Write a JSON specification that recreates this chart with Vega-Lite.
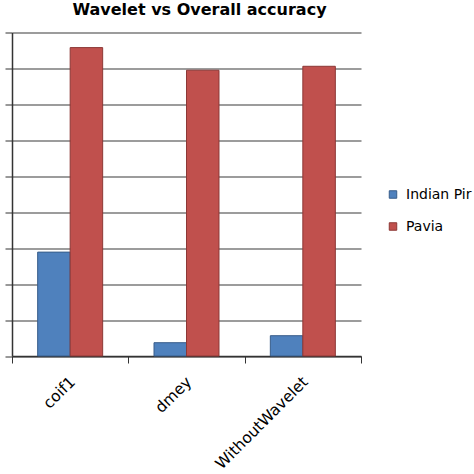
{
  "$schema": "https://vega.github.io/schema/vega-lite/v6.json",
  "width": 349,
  "height": 323.5,
  "autosize": {"type": "none"},
  "padding": {"left": 12, "top": 32.5, "right": 113, "bottom": 118},
  "background": "white",
  "title": {
    "text": "Wavelet vs Overall accuracy",
    "font": "DejaVu Sans",
    "fontSize": 16,
    "fontWeight": "bold",
    "color": "#000000",
    "anchor": "middle",
    "dx": 13,
    "offset": 14
  },
  "data": {
    "values": [
      {"wavelet": "coif1", "dataset": "Indian Pir", "accuracy": 28.9},
      {"wavelet": "coif1", "dataset": "Pavia", "accuracy": 85.8},
      {"wavelet": "dmey", "dataset": "Indian Pir", "accuracy": 3.7},
      {"wavelet": "dmey", "dataset": "Pavia", "accuracy": 79.5},
      {"wavelet": "WithoutWavelet", "dataset": "Indian Pir", "accuracy": 5.65},
      {"wavelet": "WithoutWavelet", "dataset": "Pavia", "accuracy": 80.6}
    ]
  },
  "mark": {"type": "bar", "strokeWidth": 1},
  "encoding": {
    "x": {
      "field": "wavelet",
      "type": "nominal",
      "sort": ["coif1", "dmey", "WithoutWavelet"],
      "scale": {"paddingInner": 0, "paddingOuter": 0},
      "axis": {
        "title": null,
        "labelAngle": -45,
        "labelFont": "DejaVu Sans",
        "labelFontSize": 15.5,
        "labelColor": "#000000",
        "tickBand": "extent",
        "tickColor": "#333333",
        "tickSize": 7,
        "domainColor": "#333333",
        "domainWidth": 1.5,
        "labelPadding": 11,
        "labelOffset": -3,
        "grid": false
      }
    },
    "xOffset": {
      "field": "dataset",
      "type": "nominal",
      "scale": {"paddingInner": 0, "paddingOuter": 0.79}
    },
    "y": {
      "field": "accuracy",
      "type": "quantitative",
      "scale": {"domain": [0, 90], "nice": false},
      "axis": {
        "title": null,
        "values": [0, 10, 20, 30, 40, 50, 60, 70, 80, 90],
        "labels": false,
        "tickSize": 7,
        "tickColor": "#333333",
        "domainColor": "#333333",
        "domainWidth": 1.5,
        "grid": true,
        "gridColor": "#3a3a3a",
        "gridWidth": 1.2,
        "gridOpacity": 1
      }
    },
    "fill": {
      "field": "dataset",
      "type": "nominal",
      "scale": {"domain": ["Indian Pir", "Pavia"], "range": ["#4F81BD", "#C0504D"]},
      "legend": {
        "title": null,
        "orient": "none",
        "legendX": 374,
        "legendY": 155,
        "symbolType": "square",
        "symbolSize": 56,
        "symbolStrokeWidth": 1,
        "labelFont": "DejaVu Sans",
        "labelFontSize": 14,
        "labelColor": "#000000",
        "rowPadding": 18,
        "labelOffset": 6
      }
    },
    "stroke": {
      "field": "dataset",
      "type": "nominal",
      "scale": {"domain": ["Indian Pir", "Pavia"], "range": ["#385D8A", "#8C3836"]},
      "legend": null
    }
  },
  "config": {"view": {"stroke": null}}
}
